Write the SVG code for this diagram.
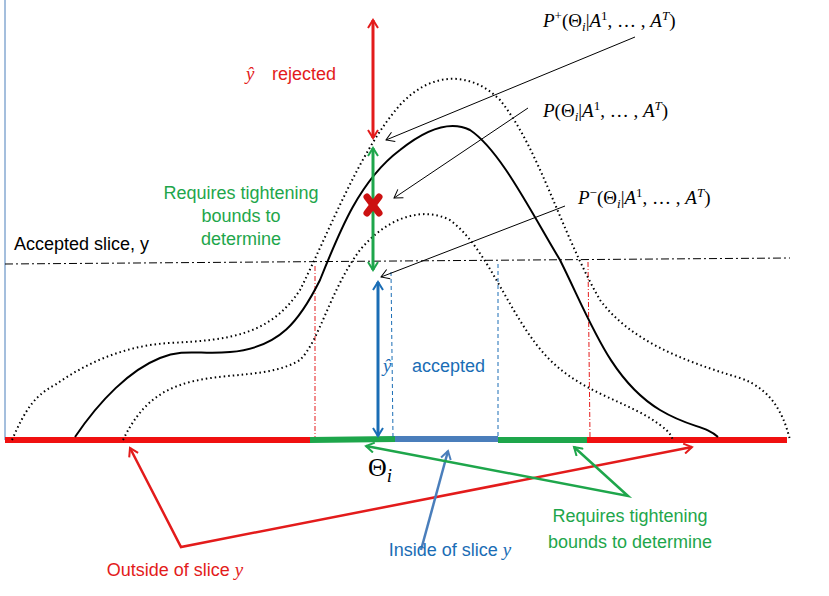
<svg xmlns="http://www.w3.org/2000/svg" width="829" height="596" viewBox="0 0 829 596">
<style>
.t{font-family:"Liberation Sans Narrow","Liberation Sans",sans-serif;font-size:18px}
.m{font-family:"Liberation Serif",serif;font-style:italic;font-size:19px}
.dot{fill:none;stroke:#000;stroke-width:2;stroke-dasharray:1.5 3}
.thin{stroke:#000;stroke-width:1;fill:none}
</style>
<defs>
<marker id="ar" markerWidth="12" markerHeight="12" refX="9" refY="6" orient="auto-start-reverse" markerUnits="userSpaceOnUse"><path d="M1,1 L9,6 L1,11" fill="none" stroke="#e31b1b" stroke-width="2"/></marker>
<marker id="ag" markerWidth="12" markerHeight="12" refX="9" refY="6" orient="auto-start-reverse" markerUnits="userSpaceOnUse"><path d="M1,1 L9,6 L1,11" fill="none" stroke="#1ea64b" stroke-width="2"/></marker>
<marker id="ab" markerWidth="12" markerHeight="12" refX="9" refY="6" orient="auto-start-reverse" markerUnits="userSpaceOnUse"><path d="M1,1 L9,6 L1,11" fill="none" stroke="#1a6db5" stroke-width="2"/></marker>
<marker id="al" markerWidth="12" markerHeight="12" refX="9" refY="6" orient="auto-start-reverse" markerUnits="userSpaceOnUse"><path d="M1,1 L9,6 L1,11" fill="none" stroke="#4a7ebb" stroke-width="2"/></marker>
<marker id="ak" markerWidth="12" markerHeight="12" refX="9" refY="6" orient="auto" markerUnits="userSpaceOnUse"><path d="M1,1 L9,6 L1,11" fill="none" stroke="#000" stroke-width="1"/></marker>
</defs>
<rect width="829" height="596" fill="#fff"/>
<g id="axes">
<line x1="5" y1="0" x2="5" y2="440" stroke="#4a7ebb" stroke-width="1"/>
<line x1="5" y1="264" x2="790" y2="258" stroke="#000" stroke-width="1" stroke-dasharray="8 3 2 3"/>
<line x1="5" y1="440" x2="310" y2="440" stroke="#f01010" stroke-width="6"/>
<line x1="310" y1="440" x2="395" y2="439" stroke="#1ea64b" stroke-width="6"/>
<line x1="395" y1="439" x2="498" y2="439" stroke="#4a7ebb" stroke-width="6"/>
<line x1="498" y1="440" x2="587" y2="440" stroke="#1ea64b" stroke-width="6"/>
<line x1="587" y1="440" x2="787" y2="440" stroke="#f01010" stroke-width="6"/>
<line x1="315" y1="266" x2="315" y2="437" stroke="#e31b1b" stroke-dasharray="5 2 1 2"/>
<line x1="588" y1="262" x2="590" y2="437" stroke="#e31b1b" stroke-dasharray="5 2 1 2"/>
<line x1="391" y1="272" x2="393" y2="437" stroke="#1a6db5" stroke-dasharray="4 3"/>
<line x1="498" y1="264" x2="498" y2="437" stroke="#1a6db5" stroke-dasharray="4 3"/>
</g>
<g id="curves">
<path class="dot" d="M12,440 C25,410 35,395 55,385 C90,360 130,345 170,343 C230,340 270,335 300,290 C330,230 360,150 400,105 C430,72 470,70 500,100 C540,150 560,230 600,300 C630,340 680,360 740,378 C775,390 785,420 790,440"/>
<path d="M75,437 C100,400 130,370 160,358 C185,348 200,355 230,352 C280,348 300,320 320,280 C340,230 360,180 400,150 C425,130 450,120 470,130 C500,150 530,210 560,260 C590,320 610,380 660,410 C690,428 705,425 718,437" fill="none" stroke="#000" stroke-width="2"/>
<path class="dot" d="M123,440 C140,405 160,390 190,382 C230,372 270,378 300,360 C320,340 330,290 360,250 C385,220 420,205 450,220 C490,250 510,320 550,360 C580,390 620,400 650,418 C665,428 670,432 673,440"/>
</g>
<g id="verticals">
<line x1="373" y1="20" x2="373" y2="138" stroke="#e31b1b" stroke-width="3" marker-start="url(#ar)" marker-end="url(#ar)"/>
<line x1="373" y1="148" x2="373" y2="270" stroke="#1ea64b" stroke-width="3" marker-start="url(#ag)" marker-end="url(#ag)"/>
<line x1="378" y1="282" x2="378" y2="436" stroke="#1a6db5" stroke-width="3" marker-start="url(#ab)" marker-end="url(#ab)"/>
<g id="x-mark" stroke="#cc1111" stroke-width="7" stroke-linecap="round"><line x1="367" y1="197" x2="379" y2="213"/><line x1="379" y1="197" x2="367" y2="213"/></g>
</g>
<g id="connectors">
<line class="thin" x1="635" y1="37" x2="386" y2="140" marker-end="url(#ak)"/>
<line class="thin" x1="528" y1="108" x2="394" y2="198" marker-end="url(#ak)"/>
<line class="thin" x1="565" y1="206" x2="381" y2="277" marker-end="url(#ak)"/>
<polyline points="130,448 181,547 692,447" fill="none" stroke="#e31b1b" stroke-width="2.5" marker-start="url(#ar)" marker-end="url(#ar)"/>
<line x1="421" y1="550" x2="448" y2="451" stroke="#4a7ebb" stroke-width="2.5" marker-end="url(#al)"/>
<polyline points="366,446 628,496 574,447" fill="none" stroke="#1ea64b" stroke-width="2.5" marker-start="url(#ag)" marker-end="url(#ag)"/>
</g>
<g id="labels">
<text class="m" x="543" y="27">P<tspan font-style="normal" dy="-7" font-size="13">+</tspan><tspan dy="7" font-style="normal">(Θ</tspan><tspan font-size="13" dy="4">i</tspan><tspan dy="-4" font-style="normal">|</tspan>A<tspan font-style="normal" font-size="13" dy="-7">1</tspan><tspan dy="7" font-style="normal">, … , </tspan>A<tspan font-size="13" dy="-7">T</tspan><tspan dy="7" font-style="normal">)</tspan></text>
<text class="m" x="543" y="117">P<tspan font-style="normal">(Θ</tspan><tspan font-size="13" dy="4">i</tspan><tspan dy="-4" font-style="normal">|</tspan>A<tspan font-style="normal" font-size="13" dy="-7">1</tspan><tspan dy="7" font-style="normal">, … , </tspan>A<tspan font-size="13" dy="-7">T</tspan><tspan dy="7" font-style="normal">)</tspan></text>
<text class="m" x="578" y="204">P<tspan font-style="normal" dy="-7" font-size="13">−</tspan><tspan dy="7" font-style="normal">(Θ</tspan><tspan font-size="13" dy="4">i</tspan><tspan dy="-4" font-style="normal">|</tspan>A<tspan font-style="normal" font-size="13" dy="-7">1</tspan><tspan dy="7" font-style="normal">, … , </tspan>A<tspan font-size="13" dy="-7">T</tspan><tspan dy="7" font-style="normal">)</tspan></text>
<text class="m" x="246" y="80" fill="#e31b1b">ŷ</text>
<text class="t" x="272" y="80" fill="#e31b1b">rejected</text>
<text class="t" x="241" y="199" fill="#1ea64b" text-anchor="middle">Requires tightening</text>
<text class="t" x="241" y="222" fill="#1ea64b" text-anchor="middle">bounds to</text>
<text class="t" x="241" y="245" fill="#1ea64b" text-anchor="middle">determine</text>
<text class="t" x="14" y="250" fill="#000">Accepted slice, y</text>
<text class="m" x="383" y="372" fill="#1a6db5">ŷ</text>
<text class="t" x="412" y="372" fill="#1a6db5">accepted</text>
<text x="368" y="476" font-family="Liberation Serif,serif" font-size="26">Θ<tspan font-style="italic" font-size="19" dy="6">i</tspan></text>
<text class="t" x="175" y="576" fill="#e31b1b" text-anchor="middle">Outside of slice <tspan class="m">y</tspan></text>
<text class="t" x="450" y="556" fill="#1a6db5" text-anchor="middle">Inside of slice <tspan class="m">y</tspan></text>
<text class="t" x="630" y="522" fill="#1ea64b" text-anchor="middle">Requires tightening</text>
<text class="t" x="630" y="548" fill="#1ea64b" text-anchor="middle">bounds to determine</text>
</g>
</svg>
